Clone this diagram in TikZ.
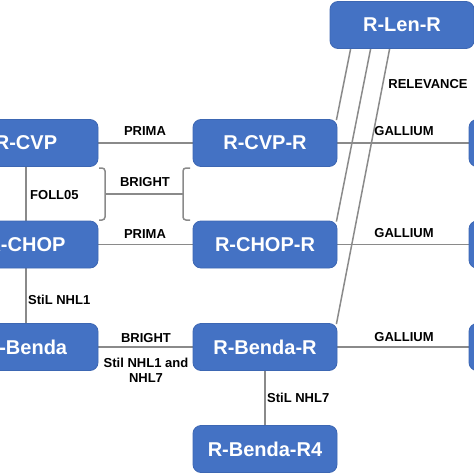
\documentclass[tikz,border=0pt]{standalone}
\usepackage{fontspec}
\setmainfont{Liberation Sans}
\usetikzlibrary{backgrounds}
\definecolor{boxblue}{HTML}{4472C4}
\definecolor{boxedge}{HTML}{3D67B3}
\definecolor{linegray}{HTML}{8A8A8A}
\tikzset{
  tbox/.style={draw=boxedge, line width=0.8pt, fill=boxblue, rounded corners=8pt,
    minimum width=144pt, minimum height=47pt, inner sep=0pt,
    text=white, font=\fontsize{20}{24}\selectfont\bfseries},
  conn/.style={draw=linegray, line width=1.5pt},
  lab/.style={font=\fontsize{13}{15.5}\selectfont\bfseries, text=black, inner sep=0pt, align=center}
}
\begin{document}
\begin{tikzpicture}[x=1pt,y=-1pt]
\useasboundingbox (0,0) rectangle (474,474);
\clip (0,0) rectangle (474,474);
% nodes
\node[tbox] (cvp)   at (26,143) {R-CVP};
\node[tbox] (chop)  at (26,244.5) {R-CHOP};
\node[tbox] (benda) at (26,347) {R-Benda};
\node[tbox] (cvpr)  at (265,143) {R-CVP-R};
\node[tbox] (chopr) at (265,244.5) {R-CHOP-R};
\node[tbox] (bendar) at (265,347) {R-Benda-R};
\node[tbox] (bendar4) at (265,449) {R-Benda-R4};
\node[tbox] (len)   at (402,25) {R-Len-R};
\node[tbox] (g1)    at (541,143) {};
\node[tbox] (g2)    at (541,244.5) {};
\node[tbox] (g3)    at (541,347) {};
% bracket coordinates
\coordinate (lbt) at (99,168);
\coordinate (lbb) at (99,220);
\coordinate (lbm) at (105,194);
\coordinate (rbt) at (190,168);
\coordinate (rbb) at (190,220);
\coordinate (rbm) at (183,194);
% labels
\node[lab] (l1) at (145,131) {PRIMA};
\node[lab] (l2) at (145,234) {PRIMA};
\node[lab] (l3) at (145,182) {BRIGHT};
\node[lab, anchor=west] (l4) at (30,195) {FOLL05};
\node[lab, anchor=west] (l5) at (28,300) {StiL NHL1};
\node[lab] (l6) at (146,338) {BRIGHT};
\node[lab] (l7) at (146,370.5) {Stil NHL1 and\\NHL7};
\node[lab] (l8) at (404,131) {GALLIUM};
\node[lab] (l9) at (404,233) {GALLIUM};
\node[lab] (l10) at (404,337) {GALLIUM};
\node[lab] (l11) at (428,84) {RELEVANCE};
\node[lab, anchor=west] (l12) at (267,398) {StiL NHL7};
\begin{pgfonlayer}{background}
\draw[conn] (cvp) -- (cvpr);
\draw[conn] (chop) -- (chopr);
\draw[conn] (benda) -- (bendar);
\draw[conn] (cvp) -- (chop);
\draw[conn] (chop) -- (benda);
\draw[conn] (bendar) -- (bendar4);
\draw[conn] (cvpr) -- (g1);
\draw[conn] (chopr) -- (g2);
\draw[conn] (bendar) -- (g3);
\draw[conn] ([xshift=21pt]len.south west) -- ([xshift=-1pt,yshift=-1pt]cvpr.north east);
\draw[conn] ([xshift=41pt]len.south west) -- ([xshift=-1pt,yshift=-1pt]chopr.north east);
\draw[conn] ([xshift=60pt]len.south west) -- ([xshift=-1pt,yshift=-1pt]bendar.north east);
\draw[conn, rounded corners=3pt] (lbt) -| (lbm) |- (lbb);
\draw[conn, rounded corners=3pt] (rbt) -| (rbm) |- (rbb);
\draw[conn] (lbm) -- (rbm);
\end{pgfonlayer}
\end{tikzpicture}
\end{document}
